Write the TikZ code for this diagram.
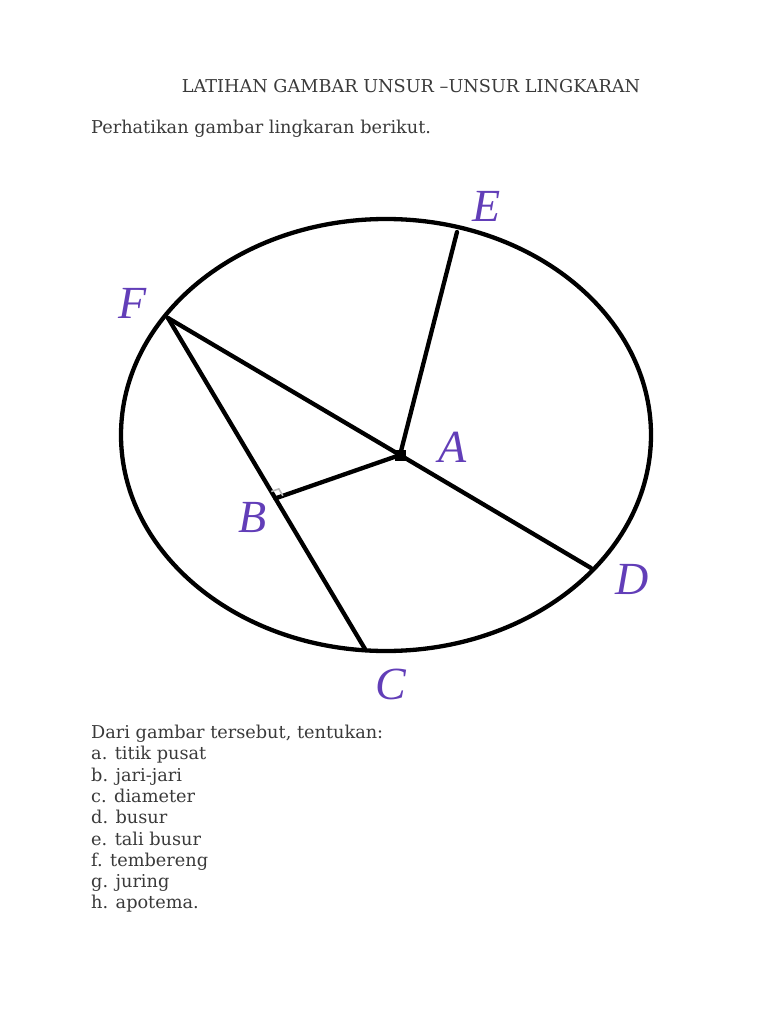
\documentclass[tikz,border=0pt]{standalone}
\usepackage{fontspec}
\setmainfont{DejaVu Serif}
\newfontfamily\hurufLabel{Liberation Serif}
\usepackage{tikz}
\definecolor{ungu}{RGB}{98,62,184}
\definecolor{tinta}{RGB}{58,58,58}
\usetikzlibrary{calc,positioning}
\tikzset{titik/.style={rectangle, draw, fill=black, inner sep=0pt, minimum size=10pt}}
\tikzset{huruf/.style={text=ungu, inner sep=0pt, font=\hurufLabel\itshape\fontsize{46}{46}\selectfont}}
\tikzset{teks/.style={anchor=base west, text=tinta, inner sep=0pt, font=\fontsize{17.7}{20}\selectfont}}
\tikzset{garis/.style={draw, line width=4.3pt, line cap=round}}
\tikzset{siku/.style={draw, gray!55, line width=1.6pt}}

\begin{document}
\begin{tikzpicture}[x=1pt,y=-1pt]
        \useasboundingbox (0,0) rectangle (768,1024);
        \node[teks, anchor=base] (judul) at (411,93) {LATIHAN GAMBAR UNSUR –UNSUR LINGKARAN};
        \node[teks] (soal) at (91,134) {Perhatikan gambar lingkaran berikut.};

        % lingkaran
        \path[garis] (386,435) ellipse [x radius=265, y radius=216];
        \coordinate (A) at (400,455);
        \coordinate (E) at (457,232);
        \coordinate (F) at (168,318);
        \coordinate (D) at (591,568);
        \coordinate (C) at (365,649);
        \coordinate (B) at ($(F)!0.545!(C)$);

        \path[garis] (F) -- (A);
        \path[garis] (F) -- (C);
        \path[garis] (E) -- (A);
        \path[garis] (A) -- (D);
        \path[garis] (A) -- (B);

        \coordinate (B1) at ($(B)!8pt!(F)$);
        \coordinate (B2) at ($(B)!8pt!(A)$);
        \path[siku] (B1) -- ($(B1)+(B2)-(B)$) -- (B2);
        \node[titik] (pusat) at (A) {};

        \node[huruf] (hurufE) at (487,206) {E};
        \node[huruf] (hurufF) at (133,303) {F};
        \node[huruf] (hurufA) at (453,447) {A};
        \node[huruf] (hurufB) at (253,518) {B};
        \node[huruf] (hurufD) at (632,579) {D};
        \node[huruf] (hurufC) at (391,684) {C};

        \node[teks] (tanya) at (91,738.5) {Dari gambar tersebut, tentukan:};
        \node[teks] (pa) at (91,759.8) {a. titik pusat};
        \node[teks] (pb) at (91,781.1) {b. jari-jari};
        \node[teks] (pc) at (91,802.4) {c. diameter};
        \node[teks] (pd) at (91,823.7) {d. busur};
        \node[teks] (pe) at (91,845) {e. tali busur};
        \node[teks] (pf) at (91,866.3) {f. tembereng};
        \node[teks] (pg) at (91,887.6) {g. juring};
        \node[teks] (ph) at (91,908.9) {h. apotema.};
      \end{tikzpicture}
\end{document}
